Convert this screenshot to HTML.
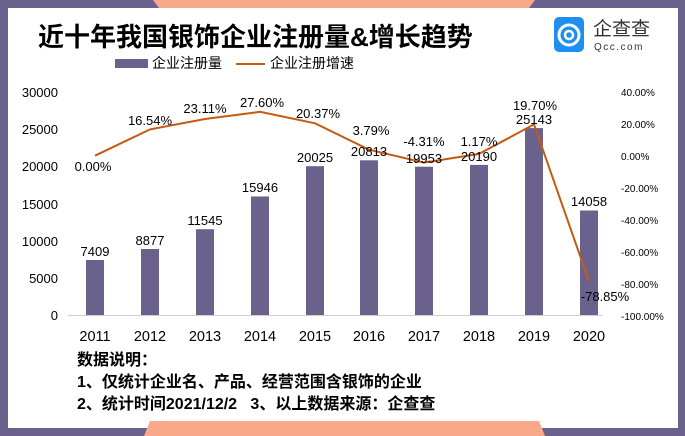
<!DOCTYPE html>
<html><head><meta charset="utf-8"><style>
body{margin:0;width:685px;height:436px;overflow:hidden;background:#6a628c;}
</style></head><body>
<svg width="685" height="436" xmlns="http://www.w3.org/2000/svg" style="position:absolute;left:0;top:0">
<rect x="0" y="0" width="685" height="436" fill="#6a628c"/>
<rect x="8" y="8" width="670" height="420" fill="#ffffff"/>
<polygon points="153,0 535,0 529,8 159,8" fill="#f9a88a"/>
<polygon points="144,436 150,421 539,421 545,436" fill="#f9a88a"/>
<text x="38" y="46" font-family="Liberation Sans,Noto Sans CJK SC,sans-serif" font-size="26" font-weight="bold" fill="#000">近十年我国银饰企业注册量&amp;增长趋势</text>
<rect x="554" y="17" width="30" height="35" rx="5" fill="#1e8ff0"/>
<circle cx="569" cy="35" r="10" fill="none" stroke="#fff" stroke-width="3"/>
<circle cx="569" cy="35" r="4" fill="none" stroke="#fff" stroke-width="2.5"/>
<text x="593" y="35" font-family="Noto Sans CJK SC,sans-serif" font-size="19" fill="#333">企查查</text>
<text x="594" y="50" font-family="Liberation Sans,sans-serif" font-size="10" fill="#333" letter-spacing="1.5">Qcc.com</text>
<rect x="115" y="59" width="33" height="9" fill="#6a628c"/>
<text x="152" y="68" font-family="Liberation Sans,Noto Sans CJK SC,sans-serif" font-size="14" fill="#000">企业注册量</text>
<line x1="236" y1="64" x2="265" y2="64" stroke="#c55a11" stroke-width="2"/>
<text x="270" y="68" font-family="Liberation Sans,Noto Sans CJK SC,sans-serif" font-size="14" fill="#000">企业注册增速</text>
<g font-family="Liberation Sans,sans-serif" font-size="13" fill="#000" text-anchor="end">
<text x="58" y="97">30000</text><text x="58" y="134">25000</text><text x="58" y="171">20000</text><text x="58" y="209">15000</text><text x="58" y="246">10000</text><text x="58" y="283">5000</text><text x="58" y="320">0</text>
</g>
<g font-family="Liberation Sans,sans-serif" font-size="10" fill="#000">
<text x="621" y="96">40.00%</text><text x="621" y="128">20.00%</text><text x="621" y="160">0.00%</text><text x="621" y="192">-20.00%</text><text x="621" y="224">-40.00%</text><text x="621" y="256">-60.00%</text><text x="621" y="288">-80.00%</text><text x="621" y="320">-100.00%</text>
</g>
<line x1="68" y1="315.5" x2="602" y2="315.5" stroke="#d0d0d0" stroke-width="1"/>
<g fill="#6a628c">
<rect x="86" y="260" width="18" height="55"/>
<rect x="141" y="249" width="18" height="66"/>
<rect x="196" y="229.2" width="18" height="85.8"/>
<rect x="251" y="196.5" width="18" height="118.5"/>
<rect x="306" y="166.2" width="18" height="148.8"/>
<rect x="360" y="160.3" width="18" height="154.7"/>
<rect x="415" y="166.7" width="18" height="148.3"/>
<rect x="470" y="164.9" width="18" height="150.1"/>
<rect x="525" y="128.1" width="18" height="186.9"/>
<rect x="580" y="210.5" width="18" height="104.5"/>
</g>
<polyline points="95,155.7 150,129.4 205,119 260,111.8 315,123.3 369,149.7 424,162.6 479,153.9 534,124.4 589,281.3" fill="none" stroke="#c55a11" stroke-width="2"/>
<g font-family="Liberation Sans,sans-serif" font-size="13" fill="#000" text-anchor="middle">
<text x="95" y="256">7409</text><text x="150" y="245">8877</text><text x="205" y="225">11545</text><text x="260" y="192">15946</text><text x="315" y="162">20025</text><text x="369" y="156">20813</text><text x="424" y="163">19953</text><text x="479" y="161">20190</text><text x="534" y="124">25143</text><text x="589" y="206">14058</text>
<text x="93" y="171">0.00%</text><text x="150" y="125">16.54%</text><text x="205" y="113">23.11%</text><text x="262" y="107">27.60%</text><text x="318" y="118">20.37%</text><text x="371" y="135">3.79%</text><text x="424" y="146">-4.31%</text><text x="479" y="146">1.17%</text><text x="535" y="110">19.70%</text><text x="605" y="301">-78.85%</text>
</g>
<g font-family="Liberation Sans,sans-serif" font-size="14.5" fill="#000" text-anchor="middle">
<text x="95" y="341">2011</text><text x="150" y="341">2012</text><text x="205" y="341">2013</text><text x="260" y="341">2014</text><text x="315" y="341">2015</text><text x="369" y="341">2016</text><text x="424" y="341">2017</text><text x="479" y="341">2018</text><text x="534" y="341">2019</text><text x="589" y="341">2020</text>
</g>
<g font-family="Liberation Sans,Noto Sans CJK SC,sans-serif" font-size="16" font-weight="bold" fill="#000">
<text x="77" y="365">数据说明：</text>
<text x="77" y="387">1、仅统计企业名、产品、经营范围含银饰的企业</text>
<text x="77" y="409" style="white-space:pre">2、统计时间2021/12/2   3、以上数据来源：企查查</text>
</g>
</svg>
</body></html>
